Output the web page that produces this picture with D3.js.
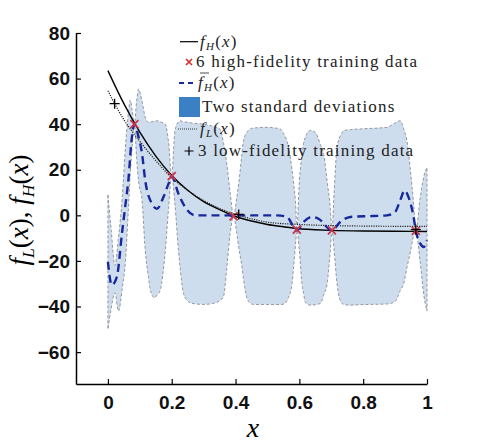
<!DOCTYPE html>
<html>
<head>
<meta charset="utf-8">
<script src="https://cdn.jsdelivr.net/npm/d3@7"></script>
<style>
  body { margin: 0; background: #fff; }
  svg { display: block; }
</style>
</head>
<body>
<svg id="chart" width="480" height="448"></svg>
<script>
// true high-fidelity function
var fHigh = [[0, 63.5], [0.05, 49], [0.1, 36.5], [0.15, 26], [0.2, 17.5], [0.25, 11], [0.3, 6],
  [0.35, 2.5], [0.4, -0.5], [0.45, -2.5], [0.5, -4], [0.55, -5], [0.6, -5.9], [0.65, -6.3],
  [0.7, -6.6], [0.8, -6.9], [0.9, -7], [1, -7.1]];

// low-fidelity function (dotted)
var fLow = [[0, 54.7], [0.021, 49], [0.05, 42], [0.1, 32.5], [0.15, 24], [0.2, 16.5], [0.25, 11],
  [0.3, 6.5], [0.35, 3], [0.4, 0.4], [0.45, -1.5], [0.5, -3], [0.6, -4], [0.7, -4.5],
  [0.8, -4.7], [0.9, -4.8], [1, -4.8]];

// predicted mean (blue dashed)
var fMean = [[0, -20.4], [0.012, -30.6], [0.028, -27], [0.044, -8], [0.054, 3.6], [0.065, 16.8],
  [0.073, 31.4], [0.083, 40], [0.095, 35], [0.107, 27], [0.117, 15.3], [0.138, 5.1], [0.154, 2.9],
  [0.174, 8], [0.19, 13.9], [0.2, 17.2], [0.221, 9.5], [0.242, 3.6], [0.274, 0], [0.38, 0],
  [0.394, -0.5], [0.41, 0], [0.53, 0], [0.561, -0.7], [0.592, -6.6], [0.613, -2.9], [0.64, -0.7],
  [0.66, -1.5], [0.702, -6.6], [0.728, -2.9], [0.76, -0.7], [0.833, -0.3], [0.874, 0], [0.9, 1.5],
  [0.916, 6.6], [0.93, 10.9], [0.942, 8], [0.958, -0.7], [0.965, -6.8], [0.979, -12.4],
  [0.99, -13.9], [1, -11]];

// two standard deviation band: x, lower, upper
var band = [[0, -50, 9], [0.01, -41, -6], [0.022, -34, -22], [0.033, -42, -10], [0.045, -32, 8],
  [0.055, -20, 30], [0.065, 5, 46], [0.07, 18, 50.6], [0.076, 30, 46], [0.083, 40, 40],
  [0.09, 25, 50], [0.096, 15, 55.4], [0.107, 6.6, 50], [0.117, -15.3, 43], [0.127, -27, 40.8],
  [0.133, -32.8, 40.9], [0.146, -36.2, 41.3], [0.154, -35, 41.5], [0.164, -32.8, 41],
  [0.18, -15.3, 40], [0.19, 3, 32], [0.2, 17.2, 17.2], [0.21, 5, 37], [0.221, -15.3, 41],
  [0.227, -24, 41.5], [0.237, -34.3, 41], [0.253, -38, 40.8], [0.263, -38.6, 40.5],
  [0.3, -39.1, 40], [0.331, -38.6, 39], [0.35, -37.5, 38], [0.362, -35.7, 32], [0.373, -22.6, 22],
  [0.383, -8, 10], [0.394, -0.5, -0.5], [0.404, -8, 8], [0.41, -14, 13.9], [0.42, -22.6, 27],
  [0.425, -28, 32.8], [0.436, -36.4, 36.5], [0.446, -38.5, 37.9], [0.456, -39.1, 38.3],
  [0.498, -39.1, 38.6], [0.54, -39.1, 37.9], [0.55, -39, 36], [0.566, -36, 29.9],
  [0.577, -30, 20], [0.582, -22.6, 14], [0.589, -10.9, 3], [0.592, -6.6, -6.6], [0.6, -15.3, 15],
  [0.608, -29.9, 26], [0.613, -34, 31.4], [0.618, -37.9, 34], [0.634, -39.4, 37.2],
  [0.65, -39.2, 36.4], [0.666, -38.6, 31], [0.676, -35, 27], [0.687, -29.9, 15], [0.697, -15.3, 3],
  [0.702, -6.6, -6.6], [0.709, -15.3, 10], [0.718, -29.9, 29.9], [0.733, -38.6, 36],
  [0.739, -39, 37.2], [0.76, -39.4, 37.6], [0.79, -39.2, 37.9], [0.874, -38.9, 38.6],
  [0.9, -37.8, 40.5], [0.916, -33, 41.5], [0.927, -29.9, 38], [0.937, -23, 32.8],
  [0.948, -16, 19.7], [0.958, -9, 5], [0.965, -6.8, -6.8], [0.979, -21, 8], [0.99, -35, 17],
  [1, -42, 21]];

var hfPoints = [[0.083, 40], [0.2, 17.2], [0.394, -0.5], [0.592, -6.3], [0.702, -6.6], [0.965, -6.8]];
var lfPoints = [[0.021, 49], [0.41, 0.4], [0.965, -6.3]];

var xTicks = [0, 0.2, 0.4, 0.6, 0.8, 1];
var yTicks = [-60, -40, -20, 0, 20, 40, 60, 80];

var svg = d3.select('#chart');

var x = d3.scaleLinear().domain([-0.1, 1]).range([76, 427]);
var y = d3.scaleLinear().domain([-74, 80]).range([384, 33]);

var plot = svg.append('g');

var area = d3.area()
  .x(function(d) { return x(d[0]); })
  .y0(function(d) { return y(d[1]); })
  .y1(function(d) { return y(d[2]); })
  .curve(d3.curveMonotoneX);

plot.append('path')
  .datum(band)
  .attr('d', area)
  .attr('fill', '#cddded')
  .attr('stroke', '#8a8f96')
  .attr('stroke-width', 0.9)
  .attr('stroke-dasharray', '3,2');

var line = d3.line()
  .x(function(d) { return x(d[0]); })
  .y(function(d) { return y(d[1]); })
  .curve(d3.curveMonotoneX);

plot.append('path')
  .datum(fHigh)
  .attr('d', line)
  .attr('fill', 'none')
  .attr('stroke', '#000')
  .attr('stroke-width', 1.4);

plot.append('path')
  .datum(fLow)
  .attr('d', line)
  .attr('fill', 'none')
  .attr('stroke', '#222')
  .attr('stroke-width', 1.2)
  .attr('stroke-dasharray', '1.2,1.2');

plot.append('path')
  .datum(fMean)
  .attr('d', line)
  .attr('fill', 'none')
  .attr('stroke', '#18289c')
  .attr('stroke-width', 2.4)
  .attr('stroke-dasharray', '8,5');

// markers
var cross = function(s) { return 'M' + -s + ',' + -s + 'L' + s + ',' + s + 'M' + -s + ',' + s + 'L' + s + ',' + -s; };
var plus = function(s) { return 'M' + -s + ',0L' + s + ',0M0,' + -s + 'L0,' + s; };

plot.selectAll('.hf').data(hfPoints).enter()
  .append('path')
  .attr('class', 'hf')
  .attr('d', cross(4))
  .attr('transform', function(d) { return 'translate(' + x(d[0]) + ',' + y(d[1]) + ')'; })
  .attr('stroke', '#c8324a')
  .attr('stroke-width', 1.8)
  .attr('fill', 'none');

plot.selectAll('.lf').data(lfPoints).enter()
  .append('path')
  .attr('class', 'lf')
  .attr('d', plus(5))
  .attr('transform', function(d) { return 'translate(' + x(d[0]) + ',' + y(d[1]) + ')'; })
  .attr('stroke', '#000')
  .attr('stroke-width', 1.3)
  .attr('fill', 'none');

// axes
var yAxis = d3.axisLeft(y).tickValues(yTicks).tickSizeInner(-5).tickSizeOuter(0).tickPadding(6);
var xAxis = d3.axisBottom(x).tickValues(xTicks).tickSizeInner(-5).tickSizeOuter(0).tickPadding(12)
  .tickFormat(function(d) { return d3.format('')(d); });

var gy = svg.append('g').attr('transform', 'translate(76,0)').call(yAxis);
var gx = svg.append('g').attr('transform', 'translate(0,384)').call(xAxis);

[gx, gy].forEach(function(g) {
  g.select('.domain').attr('stroke', '#000').attr('stroke-width', 1.5);
  g.selectAll('.tick line').attr('stroke', '#000').attr('stroke-width', 1.2);
  g.selectAll('.tick text')
    .attr('fill', '#111')
    .style('font-family', '"Liberation Sans", Arial, sans-serif')
    .style('font-weight', 'bold')
    .style('font-size', '19px');
});

// math-ish text helper
var mathText = function(sel, parts) {
  parts.forEach(function(p) {
    var t = sel.append('tspan').text(p.t);
    if (p.it) t.style('font-style', 'italic');
    if (p.sub) t.attr('dy', p.sub).style('font-size', '0.65em');
    if (p.up) t.attr('dy', p.up);
  });
};

var serif = '"Liberation Serif", "Times New Roman", serif';

// axis titles
var xt = svg.append('text')
  .attr('x', 253).attr('y', 437)
  .attr('text-anchor', 'middle')
  .style('font-family', serif)
  .style('font-size', '28px');
mathText(xt, [{t: 'x', it: true}]);

var yt = svg.append('text')
  .attr('transform', 'translate(28,210) rotate(-90)')
  .attr('text-anchor', 'middle')
  .style('font-family', serif)
  .style('font-size', '27px');
mathText(yt, [{t: 'f', it: true}, {t: 'L', it: true, sub: 6}, {t: '(', up: -6}, {t: 'x', it: true}, {t: '), '},
  {t: 'f', it: true}, {t: 'H', it: true, sub: 6}, {t: '(', up: -6}, {t: 'x', it: true}, {t: ')'}]);

// legend
var leg = svg.append('g').style('font-family', serif).style('font-size', '17px');
var rows = [41.7, 62, 83, 107, 129, 151];

leg.append('line').attr('x1', 180).attr('x2', 198).attr('y1', rows[0]).attr('y2', rows[0])
  .attr('stroke', '#000').attr('stroke-width', 1.2);
leg.append('path').attr('d', cross(3)).attr('transform', 'translate(189,' + rows[1] + ')')
  .attr('stroke', '#d42a2a').attr('stroke-width', 1.6);
leg.append('line').attr('x1', 179).attr('x2', 197).attr('y1', rows[2]).attr('y2', rows[2])
  .attr('stroke', '#18289c').attr('stroke-width', 2).attr('stroke-dasharray', '5,4');
leg.append('rect').attr('x', 179).attr('y', rows[3] - 10).attr('width', 21).attr('height', 20)
  .attr('fill', '#3b7fc4');
leg.append('line').attr('x1', 178).attr('x2', 198).attr('y1', rows[4]).attr('y2', rows[4])
  .attr('stroke', '#333').attr('stroke-width', 1).attr('stroke-dasharray', '1,1');
leg.append('path').attr('d', plus(4.5)).attr('transform', 'translate(189,' + rows[5] + ')')
  .attr('stroke', '#000').attr('stroke-width', 1.2);

var labels = [
  {x: 200, parts: [{t: 'f', it: true}, {t: 'H', it: true, sub: 3}, {t: '(', up: -3}, {t: 'x', it: true}, {t: ')'}]},
  {x: 196, parts: [{t: '6 high-fidelity training data'}]},
  {x: 198, parts: [{t: 'f', it: true}, {t: 'H', it: true, sub: 3}, {t: '(', up: -3}, {t: 'x', it: true}, {t: ')'}]},
  {x: 202, parts: [{t: 'Two standard deviations'}]},
  {x: 200, parts: [{t: 'f', it: true}, {t: 'L', it: true, sub: 3}, {t: '(', up: -3}, {t: 'x', it: true}, {t: ')'}]},
  {x: 198, parts: [{t: '3 low-fidelity training data'}]}
];

labels.forEach(function(l, i) {
  var t = leg.append('text').attr('x', l.x).attr('y', rows[i] + 5).attr('fill', '#222')
    .style('letter-spacing', '1.2px');
  mathText(t, l.parts);
});

// bar over the predicted mean symbol
leg.append('line').attr('x1', 200).attr('x2', 209).attr('y1', rows[2] - 10).attr('y2', rows[2] - 10)
  .attr('stroke', '#222').attr('stroke-width', 0.8);
</script>
</body>
</html>
